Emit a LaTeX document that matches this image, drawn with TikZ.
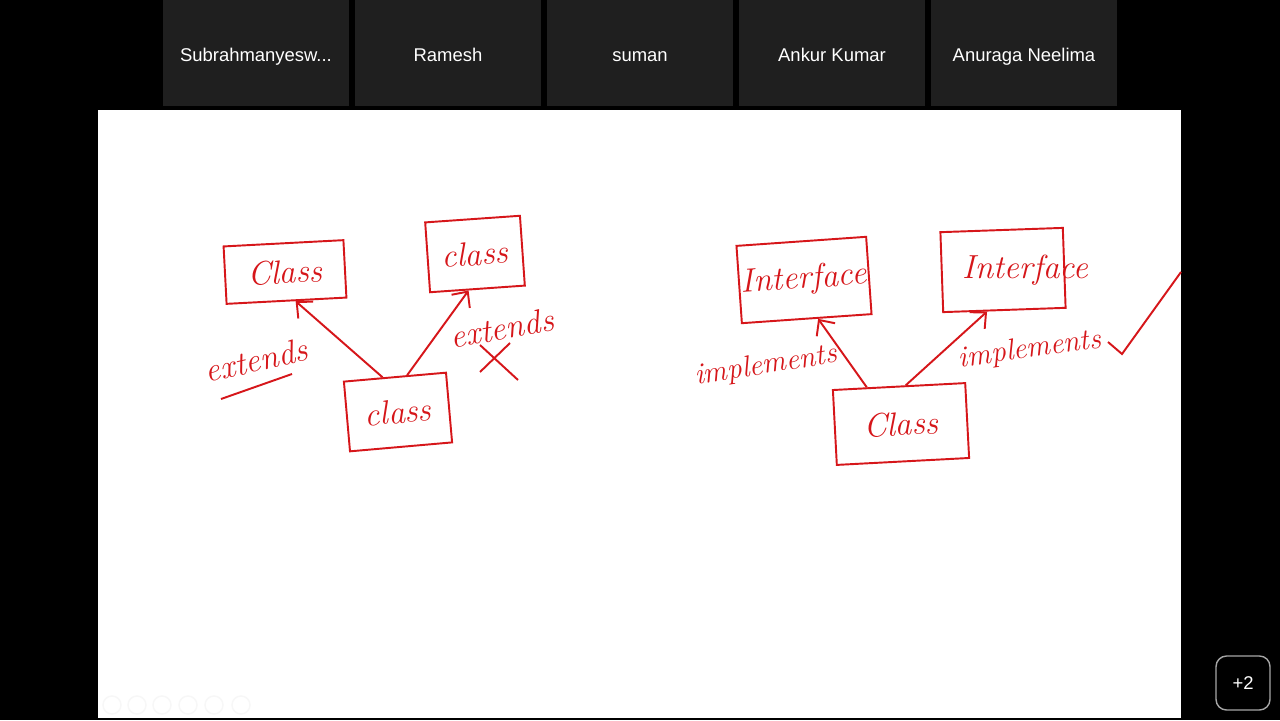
\documentclass[tikz,border=0pt]{standalone}
\usepackage{fontspec}
\usepackage{xcolor}
\usepackage{tikz}
\usetikzlibrary{arrows.meta}
\newfontfamily\uifont{Liberation Sans}
\definecolor{pen}{RGB}{214,22,26}
\definecolor{tile}{RGB}{31,31,31}
\newcommand{\longname}{Subrahmanyesw...}
\tikzset{
	box/.style={draw=pen, line width=1.1pt, inner sep=0pt},
	hand/.style={text=pen, font=\itshape\fontsize{19}{19}\selectfont},
	small hand/.style={hand, font=\itshape\fontsize{17}{17}\selectfont},
	link/.style={draw=pen, line width=1.1pt, -{Straight Barb[length=2.4mm,width=4.5mm]}},
	stroke/.style={draw=pen, line width=1.1pt},
	tilename/.style={text=white, font=\uifont\fontsize{10.5}{12}\selectfont}
}

\begin{document}
\begin{tikzpicture}[x=0.02cm,y=-0.02cm]
	\fill[black] (0,0) rectangle (1280,720);
	\useasboundingbox (0,0) rectangle (1280,720);

	\foreach \x/\who [count=\i] in {163/\longname, 355/Ramesh, 547/suman, 739/Ankur Kumar, 931/Anuraga Neelima} {
		\fill[tile] (\x,0) rectangle +(186,106);
		\node[tilename, anchor=base] (tile\i) at (\x+93,61) {\who};
	}
	\node[tilename, draw=gray!70, line width=0.8pt, rounded corners=6pt, minimum size=1.08cm] (more) at (1243,683) {+2};

	\fill[white] (98,110) rectangle (1181,718);
	\foreach \x in {112,137,162,188,214,241}
		\draw[gray!6, line width=0.8pt] (\x,705) circle (9);

	\node[box, hand, minimum width=2.4cm, minimum height=1.15cm, rotate=3] (clsA) at (285,272) {Class};
	\node[box, hand, minimum width=1.9cm, minimum height=1.4cm, rotate=4] (clsB) at (475,254) {class};
	\node[box, hand, minimum width=2.05cm, minimum height=1.4cm, rotate=5] (clsC) at (398,412) {class};
	\draw[link] (clsC.109) -- (clsA.-73);
	\draw[link] (clsC.71) -- (clsB.-104);
	\node[hand, rotate=13] (extA) at (256,360) {extends};
	\draw[stroke] (221,399) -- (292,374);
	\node[hand, rotate=10] (extB) at (502,328) {extends};
	\draw[stroke] (480,345) -- (518,380) (480,372) -- (510,343);

	\node[box, hand, minimum width=2.6cm, minimum height=1.55cm, rotate=4] (intA) at (804,280) {Interface};
	\node[box, minimum width=2.45cm, minimum height=1.6cm, rotate=2] (intB) at (1003,270) {};
	\node[hand] (intBtext) at (1025,270) {Interface};
	\node[box, hand, minimum width=2.65cm, minimum height=1.5cm, rotate=3] (clsD) at (901,424) {Class};
	\draw[link] (clsD.130) -- (intA.-74);
	\draw[link] (clsD.80) -- (intB.-113);
	\node[small hand, rotate=9] (impA) at (766,366) {implements};
	\node[small hand, rotate=8] (impB) at (1030,350) {implements};
	\draw[stroke] (1108,342) -- (1122,354) -- (1181,272);
\end{tikzpicture}
\end{document}
